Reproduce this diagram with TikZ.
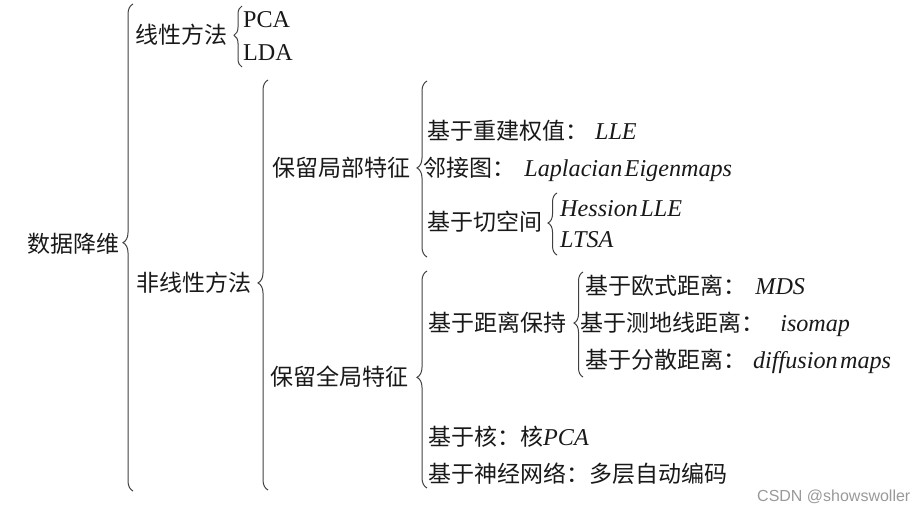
\documentclass[tikz,border=0pt]{standalone}
\usepackage{fontspec}
\setmainfont{Liberation Serif}[Scale=1.05]
\newfontfamily\cjk{Noto Sans CJK SC}
\newfontfamily\wmfont{Liberation Sans}
\usetikzlibrary{decorations.pathreplacing}
\newcommand{\en}[1]{{\rmfamily\itshape #1}}
\newcommand{\up}[1]{{\rmfamily #1}}
\newcommand{\tsp}{\hspace{0.1em}}

\tikzset{
  lbl/.style={anchor=west, inner sep=0pt, text height=20pt, text depth=4pt,
    font=\cjk\fontsize{23}{28}\selectfont, text=black!90},
  lbrace/.style 2 args={decorate, decoration={brace, amplitude=#1, aspect=#2},
    line width=1pt, draw=black!75},
  wmark/.style={anchor=west, inner sep=0pt, font=\wmfont\fontsize{16}{18}\selectfont, text=black!40}
}

\begin{document}
\begin{tikzpicture}[x=1pt,y=-1pt]
  \useasboundingbox (0,0) rectangle (924,512);

  \node[lbl] (root)   at (27,244)  {数据降维};
  \node[lbl] (lin)    at (135,35)  {线性方法};
  \node[lbl] (pca)    at (243,19)  {\up{PCA}};
  \node[lbl] (lda)    at (243,52)  {\up{LDA}};
  \node[lbl] (nonlin) at (136,283) {非线性方法};

  \node[lbl] (local)  at (272,168) {保留局部特征};
  \node[lbl] (lle)    at (427,131) {基于重建权值：\hspace{0.3em}\en{LLE}};
  \node[lbl] (lap)    at (423,168) {邻接图：\hspace{0.4em}\en{Laplacian\tsp Eigenmaps}};
  \node[lbl] (tang)   at (427,222) {基于切空间};
  \node[lbl] (hlle)   at (560,208) {\en{Hession\tsp LLE}};
  \node[lbl] (ltsa)   at (560,239) {\en{LTSA}};

  \node[lbl] (global) at (270,377) {保留全局特征};
  \node[lbl] (dist)   at (428,323) {基于距离保持};
  \node[lbl] (mds)    at (585,286) {基于欧式距离：\hspace{0.4em}\en{MDS}};
  \node[lbl] (iso)    at (580,323) {基于测地线距离：\hspace{0.7em}\en{isomap}};
  \node[lbl] (diff)   at (585,360) {基于分散距离：\hspace{0.3em}\en{diffusion\tsp maps}};
  \node[lbl] (kern)   at (428,437) {基于核：核\en{PCA}};
  \node[lbl] (nn)     at (428,474) {基于神经网络：多层自动编码};

  \node[wmark] (wm) at (757,497) {CSDN @showswoller};

  \coordinate (b1t) at (133,4);   \coordinate (b1b) at (133,491);
  \coordinate (b2t) at (242,6);   \coordinate (b2b) at (242,67);
  \coordinate (b3t) at (268,80);  \coordinate (b3b) at (268,490);
  \coordinate (b4t) at (427,81);  \coordinate (b4b) at (427,257);
  \coordinate (b5t) at (557,193); \coordinate (b5b) at (557,255);
  \coordinate (b6t) at (427,271); \coordinate (b6b) at (427,488);
  \coordinate (b7t) at (583,272); \coordinate (b7b) at (583,377);

  \draw[lbrace={10pt}{.51}] (b1b) -- (b1t);
  \draw[lbrace={8pt}{.52}]  (b2b) -- (b2t);
  \draw[lbrace={10pt}{.505}] (b3b) -- (b3t);
  \draw[lbrace={10pt}{.506}] (b4b) -- (b4t);
  \draw[lbrace={9pt}{.516}] (b5b) -- (b5t);
  \draw[lbrace={10pt}{.51}] (b6b) -- (b6t);
  \draw[lbrace={9pt}{.514}] (b7b) -- (b7t);
\end{tikzpicture}
\end{document}
